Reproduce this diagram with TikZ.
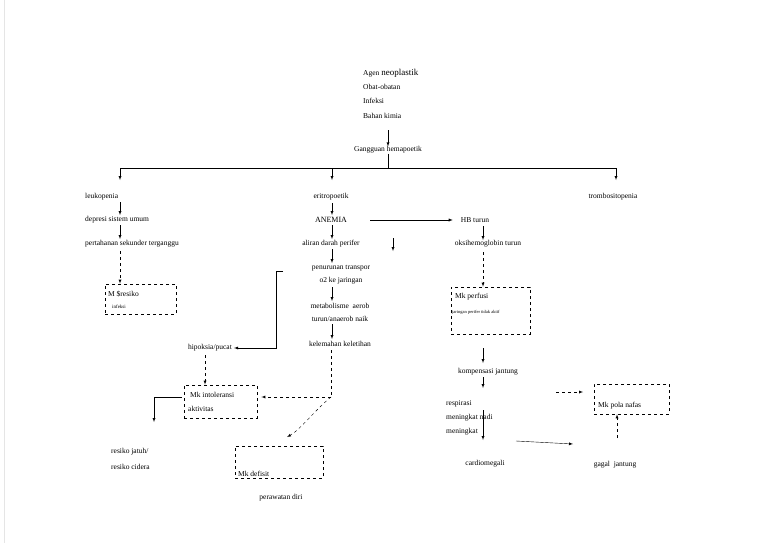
\documentclass[tikz,border=0pt]{standalone}
\usepackage{fontspec}
\setmainfont{Liberation Serif}
\begin{document}
\begin{tikzpicture}[x=1pt,y=-1pt,font=\fontsize{7.5}{8}\selectfont,
 t/.style={inner sep=0pt,anchor=center},
 tl/.style={inner sep=0pt,anchor=west},
 ar/.style={-latex,thin},
 da/.style={-latex,thin,dashed},
 bx/.style={draw,dashed,thick}]
\useasboundingbox (0,0) rectangle (768,543);
\draw[black!10] (4,0) -- (4,543);
\node[tl] (ag) at (363,73) {Agen {\fontsize{9}{9}\selectfont neoplastik}};
\node[tl] (ob) at (363,87) {Obat-obatan};
\node[tl] (in) at (363,101) {Infeksi};
\node[tl] (bk) at (363,116) {Bahan kimia};
\node[t] (gh) at (388,150) {Gangguan hemapoetik};
\coordinate (a1) at (388,130);
\draw[ar] (a1) -- (gh.north);
\coordinate (h0) at (388,168); \coordinate (hl) at (120,168); \coordinate (hm) at (332,168); \coordinate (hr) at (616,168);
\draw (gh.south) -- (h0); \draw (hl) -- (hr);
\node[tl] (leu) at (85,197) {leukopenia};
\node[tl] (dep) at (85,220) {depresi sistem umum};
\node[tl] (per) at (85,244) {pertahanan sekunder terganggu};
\draw[ar] (hl) -- (120,180);
\draw[ar] (120,202) -- (120,215); \draw[ar] (120,225) -- (120,239);
\node[bx,minimum width=71pt,minimum height=30pt] (mr) at (140.5,299) {};
\node[tl] at (108,294) {M \$resiko}; \node[tl,font=\fontsize{5}{6}\selectfont] at (112,307) {infeksi};
\draw[da] (120,251) -- (mr.north-|120,0);
\node[t] (eri) at (331,197) {eritropoetik};
\node[t,font=\fontsize{8}{8}\selectfont] (an) at (331,220) {ANEMIA};
\node[t] (al) at (331,244) {aliran darah perifer};
\node[t] (pt) at (341,268) {penurunan transpor};
\node[t] (o2) at (341,281) {o2 ke jaringan};
\node[t] (me) at (340,306) {metabolisme\ \ aerob};
\node[t] (tu) at (340,319) {turun/anaerob naik};
\node[t] (ke) at (340,344) {kelemahan keletihan};
\draw[ar] (hm) -- (332,180);
\draw[ar] (332,203) -- (332,215); \draw[ar] (332,225) -- (332,239);
\draw[ar] (332,249) -- (332,263); \draw[ar] (332,287) -- (332,301); \draw[ar] (332,324) -- (332,339);
\draw[ar] (393,238) -- (393,251);
\node[t] (hb) at (475,220) {HB turun};
\coordinate (an2) at (370,220);
\draw[ar] (an2) -- ([xshift=-8pt]hb.west);
\node[t] (hip) at (210,348) {hipoksia/pucat};
\draw[ar] (283,271) -- (276,271) -- (276,348) -- ([xshift=2pt]hip.east);
\node[bx,minimum width=73pt,minimum height=33pt] (mi) at (220.5,401.5) {};
\node[tl] at (190,395) {Mk intoleransi}; \node[tl] at (188,409) {aktivitas};
\draw[da] (205,355) -- (mi.north-|205,0);
\coordinate (k1) at (331,397);
\draw[dashed] (331,350) -- (k1); \draw[da] (k1) -- ([xshift=4pt]mi.east|-k1);
\node[bx,minimum width=88pt,minimum height=32pt] (md) at (279,462) {};
\node[tl] at (238,474) {Mk defisit};
\node[t] (pd) at (281,498) {perawatan diri};
\draw[da] (k1) .. controls (315,410) and (300,430) .. (287,437);
\node[tl] (rj) at (111,452) {resiko jatuh/};
\node[tl] (rc) at (111,467) {resiko cidera};
\draw[ar] ([xshift=-2pt]mi.west|-k1) -- (154,397) -- (154,422);
\node[t] (ok) at (488,244) {oksihemoglobin turun};
\draw[ar] (483,226) -- (483,240);
\node[bx,minimum width=79pt,minimum height=47pt] (mp) at (490.5,310.5) {};
\node[tl] at (455,297) {Mk perfusi}; \node[tl,font=\fontsize{4.5}{5}\selectfont] at (452,312) {jaringan perifer tidak aktif};
\draw[da] (483,252) -- (mp.north-|483,0);
\node[t] (kj) at (488,372) {kompensasi jantung};
\draw[ar] (483,348) -- (483,363); \draw[ar] (483,377) -- (483,388);
\node[tl] (re) at (446,404) {respirasi};
\node[tl] (mn) at (446,418) {meningkat nadi};
\node[tl] (mk) at (446,432) {meningkat};
\draw[ar] (483,410) -- (483,440);
\node[t] (cm) at (485,464) {cardiomegali};
\node[t] (gj) at (615,465) {gagal\ \ jantung};
\draw[ar] (516,441) -- (573,444);
\node[bx,minimum width=75pt,minimum height=30pt] (mpn) at (631.5,399) {};
\node[tl] at (598,406) {Mk pola nafas};
\draw[da] (556,392) -- (583,392);
\draw[da] (617,438) -- (mpn.south-|617,0);
\node[t] (tr) at (613,197) {trombositopenia};
\draw[ar] (hr) -- (616,180);
\end{tikzpicture}
\end{document}
